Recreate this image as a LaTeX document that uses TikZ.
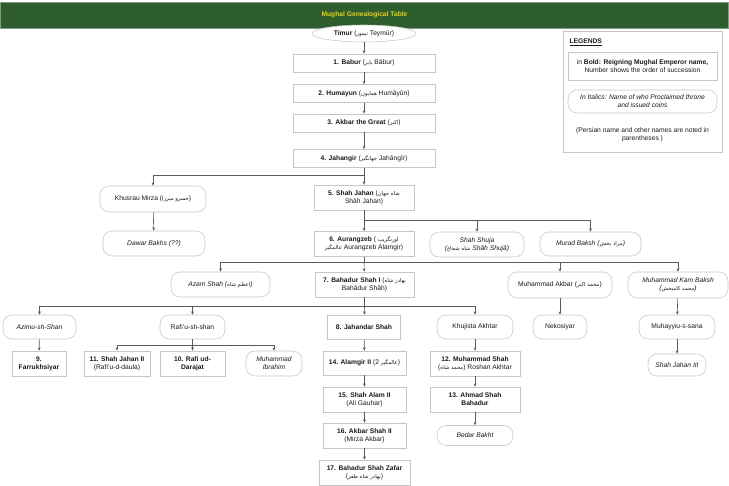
\documentclass[tikz,border=0pt]{standalone}
\usepackage{fontspec}
\setmainfont{Liberation Sans}
\newfontfamily\arabicfont[Script=Arabic,Scale=0.8]{DejaVu Sans}
\TeXXeTstate=1
\newcommand{\fars}[1]{{\arabicfont\upshape\mdseries\beginR #1\endR}}
\usetikzlibrary{arrows.meta,shapes.geometric}
\definecolor{mgGreen}{HTML}{2E5E2E}
\definecolor{mgGold}{HTML}{E6CF1A}
\definecolor{mgEdge}{HTML}{C6C6C6}
\definecolor{mgLink}{HTML}{5A5A5A}
\definecolor{mgInk}{HTML}{1A1A1A}
\tikzset{
  mg title/.style={
    fill=mgGreen, draw=mgGreen!60!white, line width=.8pt,
    minimum width=728, minimum height=26,
    text=mgGold, font=\fontsize{6.7}{7.8}\selectfont\bfseries
  },
  mg box/.style={
    draw=mgEdge, fill=white, line width=.55pt,
    align=center, inner sep=1pt, text=mgInk,
    font=\fontsize{6.7}{7.8}\selectfont
  },
  mg reign/.style={mg box, minimum height=25},
  mg pill/.style={mg box, rounded corners=9pt, minimum height=25},
  mg claim/.style={mg pill, font=\fontsize{6.7}{7.8}\selectfont\itshape},
  mg root/.style={mg box, ellipse, inner sep=0pt},
  mg note/.style={align=center, text=mgInk, font=\fontsize{6.7}{7.8}\selectfont},
  mg link/.style={
    draw=mgLink, line width=.6pt,
    -{Stealth[length=3.4pt,width=2.8pt]}
  },
  mg bus/.style={draw=mgLink, line width=.6pt}
}
\begin{document}
\begin{tikzpicture}[x=1pt,y=-1pt]
  \useasboundingbox (0,0) rectangle (729,486);
  \node[mg title] (title) at (364.5,15) {Mughal Genealogical Table};

  \node[draw=mgEdge, line width=.55pt, minimum width=159, minimum height=121,
    anchor=north west] (legend) at (563,31) {};
  \node[mg note, anchor=west] (legtitle) at (566,42) {\underline{\textbf{LEGENDS}}};
  \node[mg reign, minimum width=149, minimum height=28] (legbold) at (642.5,66)
    {in \textbf{Bold: Reigning Mughal Emperor name,}\\Number shows the order of succession};
  \node[mg claim, minimum width=149, minimum height=23] (legitalic) at (642.5,101.5)
    {In Italics: Name of who Proclaimed throne\\and issued coins};
  \node[mg note] (legpersian) at (642.5,135)
    {(Persian name and other names are noted in\\parentheses )};

  \node[mg root, minimum width=104, minimum height=17] (timur) at (364,33.5)
    {\textbf{Timur} (\fars{تیمور} Teymūr)};
  \node[mg reign, minimum width=142, minimum height=18] (babur) at (364,63)
    {\textbf{1. Babur} (\fars{بابر} Bābur)};
  \node[mg reign, minimum width=142, minimum height=18] (humayun) at (364,93.5)
    {\textbf{2. Humayun} (\fars{همایون} Humāyūn)};
  \node[mg reign, minimum width=142, minimum height=18] (akbar) at (364,123)
    {\textbf{3. Akbar the Great} (\fars{اکبر})};
  \node[mg reign, minimum width=142, minimum height=18] (jahangir) at (364,158.5)
    {\textbf{4. Jahangir} (\fars{جهانگیر} Jahāngīr)};

  \node[mg pill, minimum width=106, minimum height=26] (khusrau) at (153,199)
    {Khusrau Mirza (\fars{خسرو میرزا})};
  \node[mg claim, minimum width=102] (dawar) at (154,243.5) {Dawar Bakhs (??)};
  \node[mg reign, minimum width=100] (shahjahan) at (364,197.5)
    {\textbf{5. Shah Jahan} (\fars{شاه جهان}\\Shāh Jahan)};

  \node[mg reign, minimum width=100] (aurangzeb) at (364,244)
    {\textbf{6. Aurangzeb} ( \fars{اورنگزیب}\\\fars{عالمگیر} Aurangzeb Alamgir)};
  \node[mg claim, minimum width=94] (shuja) at (477,244.5)
    {Shah Shuja\\(\fars{شاه شجاع} Shāh Shujā)};
  \node[mg claim, minimum width=101, minimum height=24] (murad) at (590.5,244)
    {Murad Baksh (\fars{مراد بخش})};

  \node[mg claim, minimum width=99] (azam) at (220.5,284.5) {Azam Shah (\fars{اعظم شاه})};
  \node[mg reign, minimum width=99] (bahadur) at (364.5,284.5)
    {\textbf{7. Bahadur Shah I} (\fars{بهادر شاه}\\Bahādur Shāh)};
  \node[mg pill, minimum width=104, minimum height=26] (makbar) at (560,285)
    {Muhammad Akbar (\fars{محمد اکبر})};
  \node[mg claim, minimum width=100, minimum height=26] (kambaksh) at (678,285)
    {Muhammad Kam Baksh\\(\fars{محمد کامبخش})};

  \node[mg claim, minimum width=73, minimum height=24] (azimu) at (39.5,327) {Azimu-sh-Shan};
  \node[mg pill, minimum width=65, minimum height=24] (rafiu) at (192.5,327) {Rafi'u-sh-shan};
  \node[mg reign, minimum width=73, minimum height=24] (jahandar) at (364,327)
    {\textbf{8. Jahandar Shah}};
  \node[mg pill, minimum width=76, minimum height=24] (khujista) at (475,327) {Khujista Akhtar};
  \node[mg pill, minimum width=54, minimum height=24] (nekosiyar) at (560,327) {Nekosiyar};
  \node[mg pill, minimum width=76, minimum height=24] (muhayyiu) at (677,327) {Muhayyiu-s-sana};
  \node[mg claim, minimum width=58, minimum height=22] (sj3) at (677,365) {Shah Jahan III};

  \node[mg reign, minimum width=54] (farrukh) at (39,363.5) {\textbf{9.}\\\textbf{Farrukhsiyar}};
  \node[mg reign, minimum width=66] (sj2) at (117,363.5)
    {\textbf{11. Shah Jahan II}\\(Rafi'u-d-daula)};
  \node[mg reign, minimum width=65] (darajat) at (192.5,363.5)
    {\textbf{10. Rafi ud-}\\\textbf{Darajat}};
  \node[mg claim, minimum width=56] (ibrahim) at (274,363.5) {Muhammad\\Ibrahim};

  \node[mg reign, minimum width=83, minimum height=24] (alamgir) at (364.5,363)
    {\textbf{14. Alamgir II} (2 \fars{عالمگیر})};
  \node[mg reign, minimum width=83] (shahalam) at (364.5,399.5)
    {\textbf{15. Shah Alam II}\\(Ali Gauhar)};
  \node[mg reign, minimum width=83] (akbar2) at (364.5,435.5)
    {\textbf{16. Akbar Shah II}\\(Mirza Akbar)};
  \node[mg reign, minimum width=91] (zafar) at (364.5,472.5)
    {\textbf{17. Bahadur Shah Zafar}\\(\fars{بهادر شاه ظفر})};

  \node[mg reign, minimum width=90] (mshah) at (475,363.5)
    {\textbf{12. Muhammad Shah}\\(\fars{محمد شاه}) Roshan Akhtar};
  \node[mg reign, minimum width=90] (ahmad) at (475,399.5)
    {\textbf{13. Ahmad Shah}\\\textbf{Bahadur}};
  \node[mg claim, minimum width=76, minimum height=20] (bedar) at (475,435.5) {Bedar Bakht};

  \coordinate (busjah) at (364,175);
  \coordinate (busshj) at (364,220);
  \coordinate (busaur) at (364,262);
  \coordinate (busbah) at (364.5,306);
  \coordinate (busraf) at (192.5,345);

  \draw[mg link] (timur) -- (babur);
  \draw[mg link] (babur) -- (humayun);
  \draw[mg link] (humayun) -- (akbar);
  \draw[mg link] (akbar) -- (jahangir);

  \draw[mg bus] (jahangir) -- (busjah);
  \draw[mg link] (busjah) -| (khusrau);
  \draw[mg link] (busjah) -- (shahjahan);
  \draw[mg link] (khusrau) -- (dawar);

  \draw[mg bus] (shahjahan) -- (busshj);
  \draw[mg link] (busshj) -- (aurangzeb);
  \draw[mg link] (busshj) -| (shuja);
  \draw[mg link] (busshj) -| (murad);

  \draw[mg bus] (aurangzeb) -- (busaur);
  \draw[mg link] (busaur) -| (azam);
  \draw[mg link] (busaur) -- (bahadur);
  \draw[mg link] (busaur) -| (makbar);
  \draw[mg link] (busaur) -| (kambaksh);
  \draw[mg link] (makbar) -- (nekosiyar);
  \draw[mg link] (kambaksh) -- (muhayyiu);
  \draw[mg link] (muhayyiu) -- (sj3);

  \draw[mg bus] (bahadur) -- (busbah);
  \draw[mg link] (busbah) -| (azimu);
  \draw[mg link] (busbah) -| (rafiu);
  \draw[mg link] (busbah) -- (jahandar);
  \draw[mg link] (busbah) -| (khujista);
  \draw[mg link] (azimu) -- (farrukh);

  \draw[mg bus] (rafiu) -- (busraf);
  \draw[mg link] (busraf) -| (sj2);
  \draw[mg link] (busraf) -- (darajat);
  \draw[mg link] (busraf) -| (ibrahim);

  \draw[mg link] (jahandar) -- (alamgir);
  \draw[mg link] (alamgir) -- (shahalam);
  \draw[mg link] (shahalam) -- (akbar2);
  \draw[mg link] (akbar2) -- (zafar);

  \draw[mg link] (khujista) -- (mshah);
  \draw[mg link] (mshah) -- (ahmad);
  \draw[mg link] (ahmad) -- (bedar);
\end{tikzpicture}
\end{document}
